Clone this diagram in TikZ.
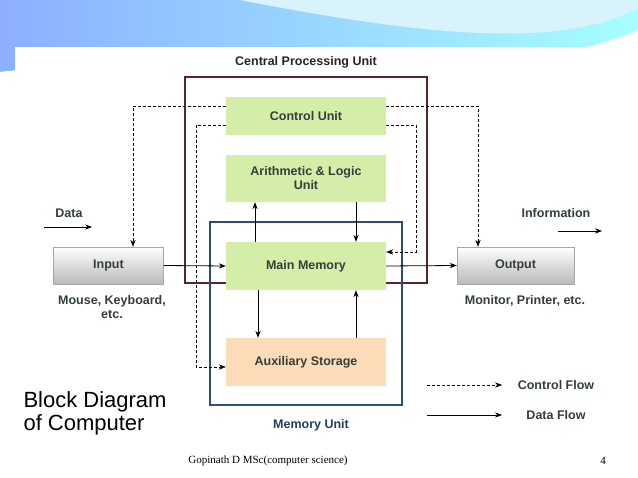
\documentclass[tikz,border=0pt]{standalone}
\usepackage{fontspec}
\setmainfont{Liberation Sans}
\newfontfamily\seriffont{Liberation Serif}
\usetikzlibrary{arrows.meta}
\definecolor{txt}{HTML}{333F3A}
\definecolor{gbox}{HTML}{D4EEAA}
\definecolor{pbox}{HTML}{FCDCB8}
\definecolor{cpuc}{HTML}{5A2526}
\definecolor{memc}{HTML}{2A4F7A}
\begin{document}
\begin{tikzpicture}[x=1pt,y=-1pt,
  f/.style={font=\fontsize{12.5}{14}\selectfont\bfseries},
  box/.style={draw=none,minimum width=160pt,f,text=txt,align=center},
  green/.style={box,fill=gbox},
  io/.style={draw=gray!70,top color=white,bottom color=gray!55,minimum width=110pt,minimum height=37pt,f,text=txt},
  lbl/.style={f,text=txt,align=center},
  dat/.style={-{Stealth[length=7pt]},thick},
  ctl/.style={-{Stealth[length=7pt]},densely dashed},
]
\useasboundingbox (0,0) rectangle (638,478);
\fill[white] (0,0) rectangle (638,478);
% decorative waves
\shade[left color=cyan!30!blue!45, right color=cyan!35] (0,0) -- (638,0) -- (638,30) .. controls (500,90) and (300,40) .. (0,72) -- cycle;
\fill[cyan!15] (240,0) -- (638,0) -- (638,8) .. controls (560,50) and (420,35) .. (240,0);
\fill[white] (0,72) .. controls (300,40) and (500,90) .. (638,30) -- (638,45) .. controls (500,95) and (300,48) .. (0,80) -- cycle;
\fill[white] (15,47) rectangle (622,445);
% title
\node[lbl,text=black!85] (cput) at (306,62) {Central Processing Unit};
\draw[line width=1.5pt,draw=cpuc] (185,77) rectangle (427,283);
\draw[line width=1.5pt,draw=memc] (210,222) rectangle (402,405);
\node[green,minimum height=38pt] (cu) at (306,116) {Control Unit};
\node[green,minimum height=47pt] (alu) at (306,178.5) {Arithmetic \& Logic\\Unit};
\node[green,minimum height=48pt] (mm) at (306,266) {Main Memory};
\node[box,fill=pbox,minimum height=48pt] (aux) at (306,362) {Auxiliary Storage};
\node[io] (in) at (108.5,265.5) {Input};
\node[io,minimum width=117pt] (out) at (515.5,265.5) {Output};
\node[lbl] (data) at (69,213) {Data};
\coordinate (d1) at (44,227); \coordinate (d2) at (92,227);
\draw[dat] (d1) -- (d2);
\node[lbl] (info) at (556,213) {Information};
\coordinate (i1) at (558,231); \coordinate (i2) at (602,231);
\draw[dat] (i1) -- (i2);
\node[lbl] (mk) at (112,307) {Mouse, Keyboard,\\etc.};
\node[lbl] (mp) at (525,301) {Monitor, Printer, etc.};
\node[lbl,text=memc!80!black] (mu) at (311,425) {Memory Unit};
\node[anchor=west,font=\fontsize{22}{23}\selectfont,align=left] (bd) at (20,413) {Block Diagram\\ of Computer};
% legend
\coordinate (l1) at (427,385); \coordinate (l2) at (502,385);
\draw[ctl] (l1) -- (l2);
\node[lbl] (cf) at (556,385) {Control Flow};
\coordinate (l3) at (427,415); \coordinate (l4) at (502,415);
\draw[dat] (l3) -- (l4);
\node[lbl] (df) at (556,415) {Data Flow};
% control flows
\draw[ctl] (cu.west |- 0,106) -- (133,106) -- (in.north -| 133,0);
\draw[ctl] (cu.east |- 0,106) -- (478,106) -- (out.north -| 478,0);
\draw[ctl] (cu.west |- 0,125) -- (196,125) -- (196,367) -- (aux.west |- 0,367);
\draw[ctl] (cu.east |- 0,125) -- (416,125) -- (416,252) -- (mm.east |- 0,252);
% data flows
\draw[dat] (in.east) -- (mm.west);
\draw[dat] (mm.east) -- (out.west);
\draw[dat] (mm.north -| 255,0) -- (alu.south -| 255,0);
\draw[dat] (alu.south -| 356,0) -- (mm.north -| 356,0);
\draw[dat] (mm.south -| 258,0) -- (aux.north -| 258,0);
\draw[dat] (aux.north -| 356,0) -- (mm.south -| 356,0);
% footer
\node[font=\seriffont\fontsize{11}{12}\selectfont] (ft) at (268,461) {Gopinath D MSc(computer science)};
\node[font=\seriffont\fontsize{11}{12}\selectfont] (pg) at (603,461) {4};
\end{tikzpicture}
\end{document}
